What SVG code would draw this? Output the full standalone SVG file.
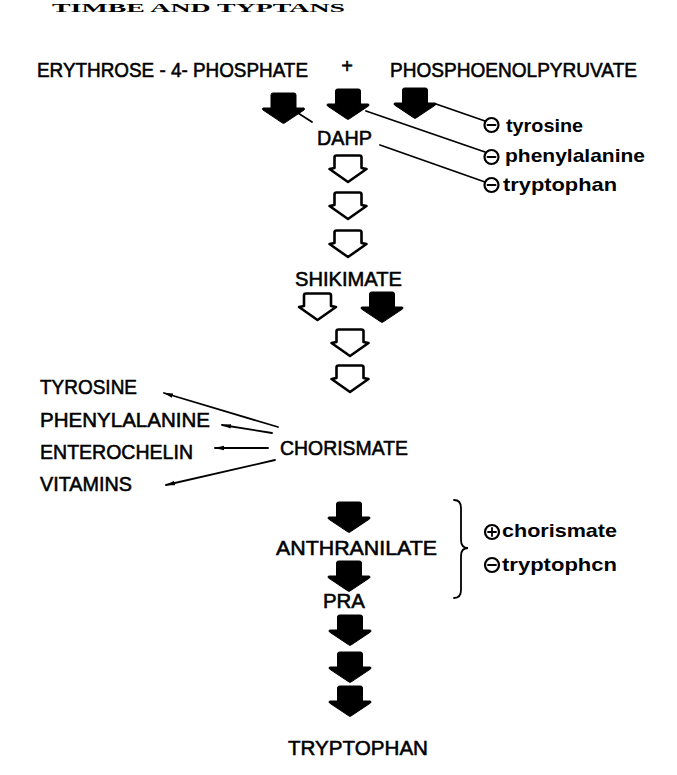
<svg xmlns="http://www.w3.org/2000/svg" width="677" height="775" viewBox="0 0 677 775">
<defs>
<style>
.cap{font-family:"Liberation Sans",Arial,sans-serif;font-size:20px;fill:#000;stroke:#000;stroke-width:0.55}
.low{font-family:"Liberation Sans",Arial,sans-serif;font-size:19px;font-weight:bold;fill:#000}
.ttl{font-family:"Liberation Serif","Times New Roman",serif;font-size:12px;font-weight:bold;fill:#000}
.ln{stroke:#000;stroke-width:1.8;fill:none;stroke-linecap:round}
.sym{stroke:#000;stroke-width:2.2;fill:#fff}
.open{fill:#fff;stroke:#000;stroke-width:2.6;stroke-linejoin:round}
.solid{fill:#000;stroke:#000;stroke-width:1;stroke-linejoin:round}
</style>
<path id="blk" d="M-12.5,2 Q-12.5,0 -10.5,0 L10.5,0 Q12.5,0 12.5,2 L12.5,15 L20.5,15 Q21.5,16 20.5,17 L1,30 Q0,30.6 -1,30 L-20.5,17 Q-21.5,16 -20.5,15 L-12.5,15 Z"/>
<path id="opn" d="M-13.5,13 L-13.5,2.5 Q-13.5,0.5 -11.5,0.5 L11.5,0.5 Q13.5,0.5 13.5,2.5 L13.5,13 L18.5,14 L0,27 L-18.5,14 Z"/>
<marker id="ah" viewBox="0 0 10 6" refX="9" refY="3" markerWidth="10" markerHeight="6" markerUnits="userSpaceOnUse" orient="auto">
<path d="M0,0.8 L10,3 L0,5.2 Z" fill="#000"/>
</marker>
</defs>

<text class="ttl" x="52" y="12" textLength="293" lengthAdjust="spacingAndGlyphs">TIMBE AND TYPTANS</text>

<g id="connectors">
<line class="ln" x1="298" y1="113" x2="312" y2="122"/>
<line class="ln" x1="366" y1="111" x2="485" y2="152"/>
<line class="ln" x1="436" y1="104" x2="485" y2="121"/>
<line class="ln" x1="380" y1="145" x2="485" y2="182"/>
<line class="ln" x1="278" y1="427" x2="164" y2="393" marker-end="url(#ah)"/>
<line class="ln" x1="272" y1="433" x2="222" y2="425" marker-end="url(#ah)"/>
<line class="ln" x1="268" y1="448" x2="215" y2="448" marker-end="url(#ah)"/>
<line class="ln" x1="275" y1="460" x2="166" y2="485" marker-end="url(#ah)"/>
<path class="ln" d="M454,500 Q461,500 461,508 L461,540 Q461,548 468,548 Q461,548 461,556 L461,590 Q461,598 454,598"/>
</g>

<g id="arrows-top">
<use href="#blk" class="solid" x="283.5" y="93"/>
<use href="#blk" class="solid" x="348" y="89"/>
<use href="#blk" class="solid" x="415" y="88"/>
</g>

<g id="arrows-shikimate">
<use href="#opn" class="open" x="348" y="155"/>
<use href="#opn" class="open" x="348" y="192"/>
<use href="#opn" class="open" x="348" y="230"/>
<use href="#opn" class="open" x="317.5" y="293"/>
<use href="#blk" class="solid" x="382" y="292"/>
<use href="#opn" class="open" x="350" y="329"/>
<use href="#opn" class="open" x="350" y="365"/>
</g>

<g id="arrows-trp">
<use href="#blk" class="solid" x="349" y="502"/>
<use href="#blk" class="solid" x="349" y="561"/>
<use href="#blk" class="solid" x="350" y="615"/>
<use href="#blk" class="solid" x="350" y="652"/>
<use href="#blk" class="solid" x="350" y="686"/>
</g>

<g id="e4p"><text class="cap" x="37" y="77" textLength="271" lengthAdjust="spacingAndGlyphs">ERYTHROSE - 4- PHOSPHATE</text></g>
<g id="plus"><text class="cap" x="347" y="73" font-size="13" text-anchor="middle">+</text></g>
<g id="pep"><text class="cap" x="390" y="77" textLength="247" lengthAdjust="spacingAndGlyphs">PHOSPHOENOLPYRUVATE</text></g>

<g id="inh-tyr">
<circle class="sym" cx="491.5" cy="125" r="7"/><line class="ln" x1="487.5" y1="125" x2="495.5" y2="125"/>
<text class="low" x="506" y="132" textLength="77" lengthAdjust="spacingAndGlyphs">tyrosine</text>
</g>
<g id="inh-phe">
<circle class="sym" cx="491.5" cy="157" r="7"/><line class="ln" x1="487.5" y1="157" x2="495.5" y2="157"/>
<text class="low" x="505" y="162" textLength="140" lengthAdjust="spacingAndGlyphs">phenylalanine</text>
</g>
<g id="inh-trp">
<circle class="sym" cx="491.5" cy="185" r="7"/><line class="ln" x1="487.5" y1="185" x2="495.5" y2="185"/>
<text class="low" x="503" y="191" textLength="114" lengthAdjust="spacingAndGlyphs">tryptophan</text>
</g>

<g id="dahp"><text class="cap" x="317" y="145" textLength="55" lengthAdjust="spacingAndGlyphs">DAHP</text></g>
<g id="shikimate"><text class="cap" x="295" y="286" textLength="107" lengthAdjust="spacingAndGlyphs">SHIKIMATE</text></g>

<g id="tyrosine"><text class="cap" x="40" y="394" textLength="97" lengthAdjust="spacingAndGlyphs">TYROSINE</text></g>
<g id="phenylalanine"><text class="cap" x="40" y="427" textLength="170" lengthAdjust="spacingAndGlyphs">PHENYLALANINE</text></g>
<g id="enterochelin"><text class="cap" x="40" y="459" textLength="153" lengthAdjust="spacingAndGlyphs">ENTEROCHELIN</text></g>
<g id="vitamins"><text class="cap" x="40" y="491" textLength="92" lengthAdjust="spacingAndGlyphs">VITAMINS</text></g>
<g id="chorismate"><text class="cap" x="280" y="455" textLength="128" lengthAdjust="spacingAndGlyphs">CHORISMATE</text></g>

<g id="anthranilate"><text class="cap" x="276" y="555" textLength="161" lengthAdjust="spacingAndGlyphs">ANTHRANILATE</text></g>
<g id="reg-chor">
<circle class="sym" cx="492" cy="532" r="7"/><line class="ln" x1="488" y1="532" x2="496" y2="532"/><line class="ln" x1="492" y1="528" x2="492" y2="536"/>
<text class="low" x="502" y="537" textLength="115" lengthAdjust="spacingAndGlyphs">chorismate</text>
</g>
<g id="reg-trp">
<circle class="sym" cx="492" cy="565" r="7"/><line class="ln" x1="488" y1="565" x2="496" y2="565"/>
<text class="low" x="502" y="571" textLength="115" lengthAdjust="spacingAndGlyphs">tryptophcn</text>
</g>
<g id="pra"><text class="cap" x="323" y="608" textLength="42" lengthAdjust="spacingAndGlyphs">PRA</text></g>
<g id="tryptophan"><text class="cap" x="288" y="755" textLength="140" lengthAdjust="spacingAndGlyphs">TRYPTOPHAN</text></g>
</svg>
